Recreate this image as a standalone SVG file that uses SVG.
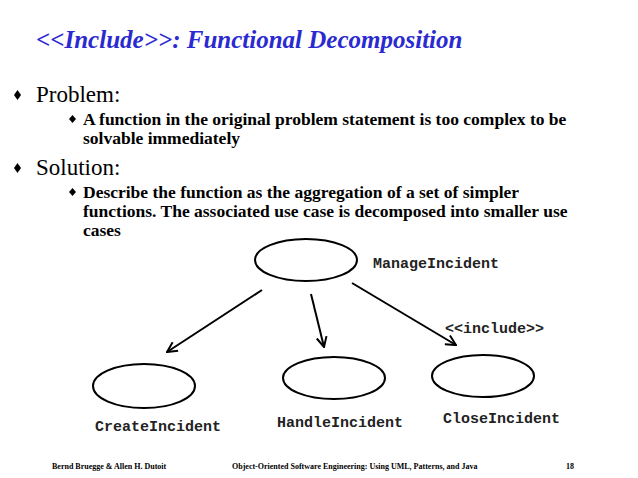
<svg xmlns="http://www.w3.org/2000/svg" width="638" height="478" viewBox="0 0 638 478">
<style>
.t{font-family:"Liberation Serif",serif;fill:#000}
.m{font-family:"Liberation Mono",monospace;font-size:15px;font-weight:bold;fill:#222}
.n{fill:none;stroke:#000;stroke-width:2}
.c{stroke:#000;stroke-width:2;fill:none;marker-end:url(#a)}
</style>
<defs><marker id="a" viewBox="0 0 12 12" refX="11" refY="6" markerWidth="12" markerHeight="12" markerUnits="userSpaceOnUse" orient="auto"><path d="M1,1 L11,6 L1,11" fill="none" stroke="#000" stroke-width="2"/></marker></defs>
<rect width="638" height="478" fill="#fff"/>
<text x="36" y="48" class="t" font-size="25" font-style="italic" font-weight="bold" style="fill:#2a2ad0">&lt;&lt;Include&gt;&gt;: Functional Decomposition</text>
<path d="M14,95 l3.5,-5 l3.5,5 l-3.5,5z" fill="#000"/>
<text x="36" y="102" class="t" font-size="23">Problem:</text>
<path d="M69,119 l3.5,-4 l3.5,4 l-3.5,4z" fill="#000"/>
<text x="83" y="125" class="t" font-size="17.5" font-weight="bold">A function in the original problem statement is too complex to be</text>
<text x="83" y="144" class="t" font-size="17.5" font-weight="bold">solvable immediately</text>
<path d="M14,168 l3.5,-5 l3.5,5 l-3.5,5z" fill="#000"/>
<text x="36" y="175" class="t" font-size="23">Solution:</text>
<path d="M69,192 l3.5,-4 l3.5,4 l-3.5,4z" fill="#000"/>
<text x="83" y="198" class="t" font-size="17.5" font-weight="bold">Describe the function as  the aggregation of a set of simpler</text>
<text x="83" y="217" class="t" font-size="17.5" font-weight="bold">functions. The associated use case is decomposed into smaller use</text>
<text x="83" y="236" class="t" font-size="17.5" font-weight="bold">cases</text>
<g id="ManageIncident"><ellipse class="n" cx="306" cy="260" rx="51" ry="21"/><text class="m" x="373" y="268">ManageIncident</text></g>
<g id="CreateIncident"><ellipse class="n" cx="144" cy="386" rx="51" ry="22"/><text class="m" x="95" y="431">CreateIncident</text></g>
<g id="HandleIncident"><ellipse class="n" cx="334" cy="378" rx="51" ry="21"/><text class="m" x="277" y="427">HandleIncident</text></g>
<g id="CloseIncident"><ellipse class="n" cx="483" cy="376" rx="51" ry="21"/><text class="m" x="443" y="423">CloseIncident</text></g>
<g id="connectors">
<line class="c" x1="262" y1="290" x2="167" y2="352"/>
<line class="c" x1="311" y1="294" x2="324" y2="347"/>
<line class="c" x1="352" y1="283" x2="456" y2="345"/>
<text class="m" x="445" y="333">&lt;&lt;include&gt;&gt;</text>
</g>
<text x="52" y="469" class="t" font-size="8" font-weight="bold">Bernd Bruegge &amp; Allen H. Dutoit</text>
<text x="232" y="469" class="t" font-size="8" font-weight="bold">Object-Oriented Software Engineering: Using UML, Patterns, and Java</text>
<text x="566" y="469" class="t" font-size="8" font-weight="bold">18</text>
</svg>
